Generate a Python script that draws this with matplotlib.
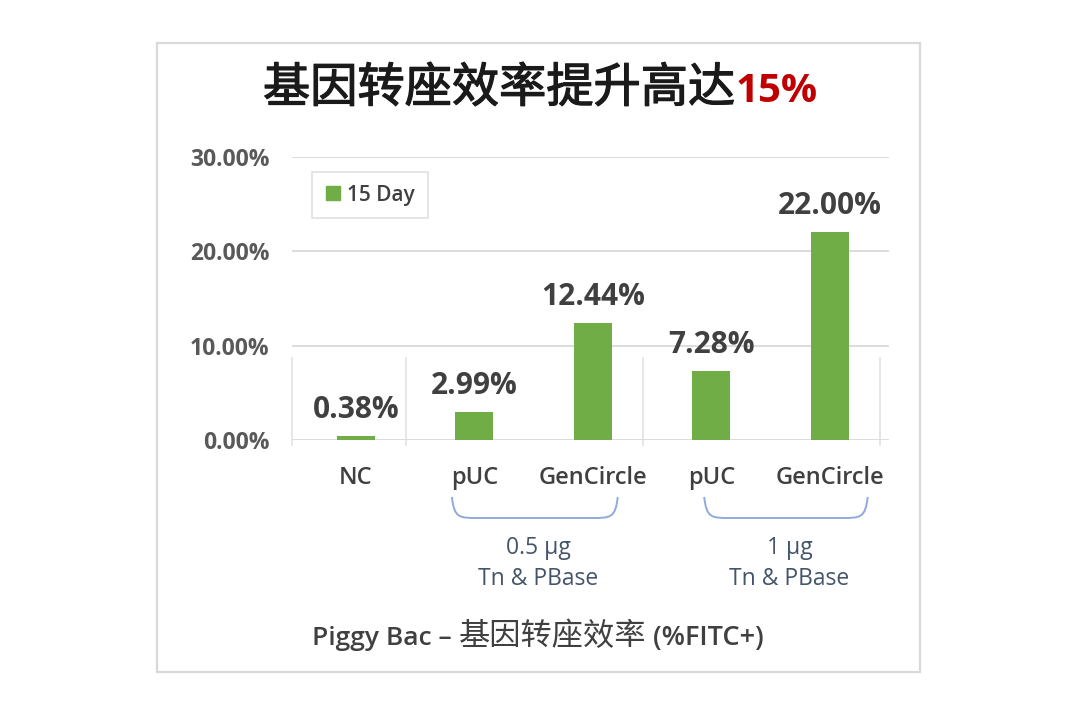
import matplotlib
matplotlib.use("Agg")
import matplotlib.pyplot as plt
import matplotlib.patheffects as pe
from matplotlib.path import Path
from matplotlib.patches import PathPatch, Rectangle
from matplotlib.lines import Line2D

# data
categories = ["NC", "pUC", "GenCircle", "pUC", "GenCircle"]
values = [0.0038, 0.0299, 0.1244, 0.0728, 0.2200]
value_labels = ["0.38%", "2.99%", "12.44%", "7.28%", "22.00%"]
y_ticks = [0.0, 0.10, 0.20, 0.30]
y_tick_labels = ["0.00%", "10.00%", "20.00%", "30.00%"]
series_name = "15 Day"
groups = [("0.5 µg", "Tn & PBase", 0.81, 2.21), ("1 µg", "Tn & PBase", 2.94, 4.32)]
separators = [-0.54, 0.42, 2.42, 4.42]

GREEN = "#70AD47"
DARK = "#404040"
GREY = "#595959"
SLATE = "#44546A"
BRACE = "#8FAADC"
LATIN = ["Open Sans", "Noto Sans CJK SC", "DejaVu Sans"]
CJK = ["Noto Sans CJK SC", "DejaVu Sans"]

W, H = 1080, 708
fig = plt.figure(figsize=(W / 100, H / 100), dpi=100)
renderer = fig.canvas.get_renderer()


def text_runs(x_left, y, runs):
    # lay out pieces of text side by side on one baseline (figure pixels)
    x = x_left
    for s, kw in runs:
        t = fig.text(x / W, 1 - y / H, s, ha="left", va="baseline", **kw)
        x += t.get_window_extent(renderer).width


# outer frame
fig.add_artist(Rectangle((157 / W, 1 - 672 / H), (920 - 157) / W, (672 - 43) / H,
                         transform=fig.transFigure, fill=False, ec="#d9d9d9", lw=1.6))

ax = fig.add_axes([292 / W, 1 - 440 / H, 597 / W, 283 / H])
x = list(range(len(categories)))
ax.bar(x, values, width=0.32, color=GREEN, zorder=3, label=series_name)
ax.set_xlim(-0.54, 4.5)
ax.set_ylim(0, 0.30)

for s in ax.spines.values():
    s.set_visible(False)
ax.set_yticks(y_ticks)
ax.set_yticklabels(y_tick_labels, family=LATIN, fontsize=16.5, fontweight="bold", color=GREY)
ax.yaxis.grid(True, color="#d9d9d9", lw=1.3, zorder=0)
ax.tick_params(axis="y", length=0, pad=16)
ax.set_xticks(x)
ax.set_xticklabels(categories, family=LATIN, fontsize=17, fontweight="semibold", color=DARK)
ax.tick_params(axis="x", length=0, pad=19)

# value labels
for xi, v, lab in zip(x, values, value_labels):
    ax.annotate(lab, (xi, v), xytext=(0, 13), textcoords="offset points",
                ha="center", va="baseline", family=LATIN, fontsize=21.5,
                fontweight="bold", color=DARK)

# category group separators
ax.vlines(separators, -0.006, 0.088, color="#e3e3e3", lw=1.2, clip_on=False, zorder=1)

# group braces and labels
top, bot = -0.0604, -0.0827
for lab1, lab2, x0, x1 in groups:
    verts = [(x0, top), (x0 + 0.02, bot), (x0 + 0.06, bot), (x0 + 0.22, bot),
             (x1 - 0.22, bot),
             (x1 - 0.06, bot), (x1 - 0.02, bot), (x1, top)]
    codes = [Path.MOVETO, Path.CURVE4, Path.CURVE4, Path.CURVE4, Path.LINETO,
             Path.CURVE4, Path.CURVE4, Path.CURVE4]
    ax.add_patch(PathPatch(Path(verts, codes), fill=False, ec=BRACE, lw=1.4, clip_on=False))
    xc = (x0 + x1) / 2 + 0.03
    ax.text(xc, -0.1145, lab1, ha="center", va="center", family=LATIN, fontsize=16.5, color=SLATE)
    ax.text(xc, -0.1474, lab2, ha="center", va="center", family=LATIN, fontsize=16.5, color=SLATE)

# legend
handle = Line2D([], [], marker="s", ls="none", color=GREEN, markersize=10)
leg = fig.legend([handle], [series_name], loc="upper left",
                 bbox_to_anchor=(312 / W, 1 - 172 / H), borderaxespad=0,
                 frameon=True, fancybox=False, handlelength=0.8, handletextpad=0.3,
                 borderpad=0.6, prop={"family": LATIN, "size": 15, "weight": "semibold"})
leg.get_frame().set_edgecolor("#d9d9d9")
leg.get_frame().set_linewidth(1.2)
for t in leg.get_texts():
    t.set_color(DARK)

# title (regular CJK thickened a little to look like a medium weight)
thick = [pe.withStroke(linewidth=0.9, foreground="#1a1a1a")]
text_runs(263, 102, [
    ("基因转座效率提升高达", dict(family=CJK, fontsize=34, color="#1a1a1a", path_effects=thick)),
    ("15%", dict(family=LATIN, fontsize=29, fontweight="bold", color="#C00000")),
])

# bottom caption
text_runs(312, 645, [
    ("Piggy Bac – ", dict(family=LATIN, fontsize=19, fontweight="semibold", color=DARK)),
    ("基因转座效率", dict(family=CJK, fontsize=22.5, color=DARK)),
    (" (%FITC+)", dict(family=LATIN, fontsize=19.5, fontweight="semibold", color=DARK)),
])

fig.savefig("out.png", dpi=100, facecolor="white")
